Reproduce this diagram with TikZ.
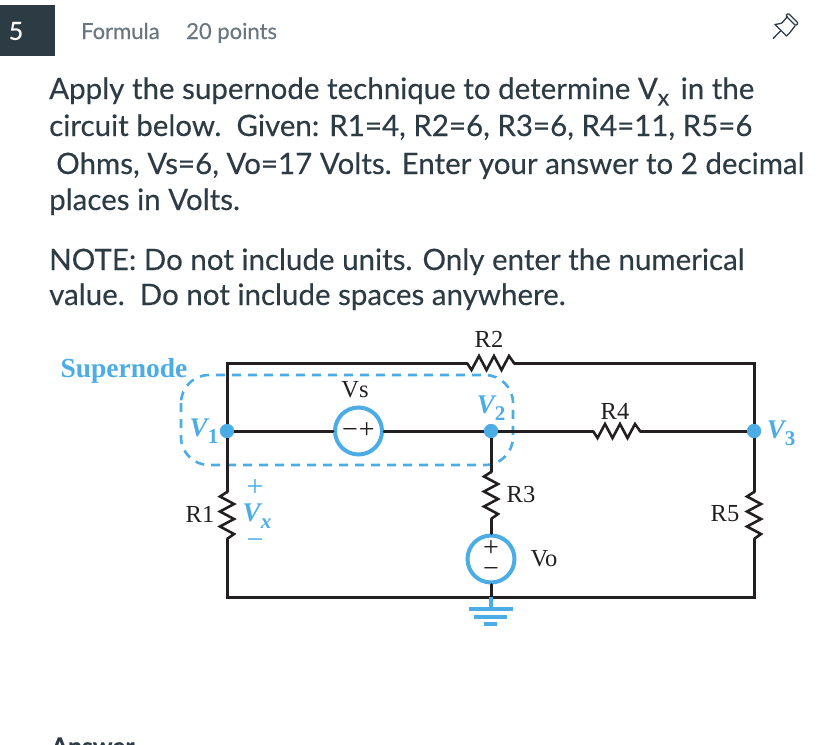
\documentclass[tikz,border=0pt]{standalone}
\usepackage{fontspec}
\setmainfont[FakeBold=0.25]{Lato}
\newfontfamily\cserif{Liberation Serif}
\definecolor{cblue}{HTML}{4BACE6}
\definecolor{cwire}{HTML}{231F20}
\definecolor{hdark}{HTML}{2D3B45}
\definecolor{hgray}{HTML}{6B7780}
\tikzset{
  x=1pt,y=-1pt,
  wire/.style={draw=cwire,line width=3pt,line cap=round,line join=miter},
  res/.style={draw=cwire,line width=2.6pt,line join=miter},
  resistor/.pic={\draw[res] (0,0) -- (4.5,7) -- (12,-7) -- (19.5,7) -- (27,-7) -- (34.5,7) -- (42,-7) -- (47,0);},
  junction/.style={circle,fill=cblue,inner sep=0pt,minimum size=14pt},
  source/.style={circle,draw=cblue,line width=4pt,fill=white,inner sep=0pt,minimum size=47pt,text=cwire,font=\cserif\fontsize{28}{28}\selectfont},
  para/.style={anchor=base west,inner sep=0pt,text=hdark,font=\fontsize{29.5}{30}\selectfont},
  head/.style={anchor=base west,inner sep=0pt,text=hgray,font=\fontsize{22}{24}\selectfont},
  clab/.style={inner sep=0pt,text=cwire,font=\cserif\fontsize{24.5}{24.5}\selectfont},
  blab/.style={inner sep=0pt,text=cblue,font=\cserif\itshape\bfseries\fontsize{27}{27}\selectfont},
  gbar/.style={draw=cblue,line width=4pt},
  loopline/.style={draw=cblue,line width=2.6pt,dash pattern=on 9pt off 7pt},
  pin/.style={draw=hdark,line width=1.3pt,line join=round,line cap=round},
}
\newcommand{\sbs}[1]{\raisebox{-0.22em}{\fontsize{23}{23}\selectfont #1}}
\newcommand{\nsb}[1]{\raisebox{-0.25em}{\upshape\bfseries\fontsize{21}{21}\selectfont #1}}
\begin{document}
\begin{tikzpicture}
\useasboundingbox (0,0) rectangle (824,744);
% header
\node[fill=hdark,minimum width=55pt,minimum height=51pt,inner sep=0pt,anchor=north west] (badge) at (0,5) {};
\node[inner sep=0pt,text=white,font=\fontsize{25}{25}\selectfont] (num) at (16,31) {5};
\node[head] (formula) at (81,39) {Formula};
\node[head] (points) at (186,39) {20 points};
% pin icon
\draw[pin] (773.3,38.3) -- (780.5,31);
\draw[pin,rounded corners=1pt,rotate around={-45:(792,19.5)}] (785,17.75) rectangle (799,21.25);
\draw[pin,rounded corners=1pt] (775,24.5) -- (781.7,23.3) -- (787.3,16.7);
\draw[pin,rounded corners=1pt] (786.5,36) -- (789.3,33.3) -- (795,26);
\draw[pin] (775,24.5) -- (786.5,36);
% question text
\node[para] (l1) at (49,99) {Apply the supernode technique to determine V\sbs{x}\hspace{4pt} in the};
\node[para] (l2) at (49,136) {circuit below.\ \ Given: R1=4, R2=6, R3=6, R4=11, R5=6};
\node[para] (l3) at (56,174) {Ohms, Vs=6, Vo=17 Volts. Enter your answer to 2 decimal};
\node[para] (l4) at (49,210) {places in Volts.};
\node[para] (l5) at (49,270) {NOTE: Do not include units. Only enter the numerical};
\node[para] (l6) at (49,305) {value.\ \ Do not include spaces anywhere.};
\node[para,font=\bfseries\fontsize{24.5}{24.5}\selectfont] (ans) at (51,755) {Answer};
% supernode outline
\draw[loopline,rounded corners=28pt] (181,375) rectangle (513,465);
% corners and resistor ends
\coordinate (tl) at (227,363);
\coordinate (tr) at (754,363);
\coordinate (bl) at (227,597);
\coordinate (br) at (754,597);
\coordinate (bm) at (491,597);
\coordinate (r2a) at (467,363); \coordinate (r2b) at (514,363);
\coordinate (r4a) at (593,431); \coordinate (r4b) at (640,431);
\coordinate (r1a) at (227,492); \coordinate (r1b) at (227,539);
\coordinate (r3a) at (491,472); \coordinate (r3b) at (491,519);
\coordinate (r5a) at (754,492); \coordinate (r5b) at (754,539);
\coordinate (gtop) at (491,608);
% nodes
\node[junction] (v1) at (227,431) {};
\node[junction] (v2) at (491,431) {};
\node[junction] (v3) at (754,431) {};
\node[source] (vs) at (358.5,431) {\raisebox{0.02em}{−\hspace{1pt}+}};
\node[source,align=center,font=\cserif\fontsize{28}{21}\selectfont] (vo) at (491,559) {+\\−};
% wires
\draw[wire] (r2a) -- (tl) -- (v1) -- (r1a);
\draw[wire] (r1b) -- (bl) -- (br) -- (r5b);
\draw[wire] (r5a) -- (v3) -- (tr) -- (r2b);
\draw[wire] (v1) -- (vs);
\draw[wire] (vs) -- (v2) -- (r4a);
\draw[wire] (r4b) -- (v3);
\draw[wire] (v2) -- (r3a);
\draw[wire] (r3b) -- (vo);
\draw[wire] (vo) -- (bm);
\node[junction] at (v1) {};
\node[junction] at (v2) {};
\node[junction] at (v3) {};
% resistors
\pic at (r2a) {resistor};
\pic at (r4a) {resistor};
\pic[rotate=-90] at (r1a) {resistor};
\pic[rotate=-90] at (r3a) {resistor};
\pic[rotate=-90] at (r5a) {resistor};
% ground
\draw[gbar] (bm) -- (gtop);
\draw[gbar] (469,609) -- (513,609);
\draw[gbar] (474,617) -- (507,617);
\draw[gbar] (484,624) -- (497,624);
% labels
\node[clab] (tr2) at (489,339) {R2};
\node[clab] (tvs) at (355,390) {Vs};
\node[clab] (tr4) at (615,411) {R4};
\node[clab] (tr3) at (521,495) {R3};
\node[clab] (tr1) at (200,514) {R1};
\node[clab] (tr5) at (725,514) {R5};
\node[clab] (tvo) at (544,559) {Vo};
\node[inner sep=0pt,text=cblue,font=\cserif\bfseries\fontsize{27.5}{27.5}\selectfont] (tsuper) at (124,371) {Supernode};
\node[blab] (tv1) at (204,431) {V\nsb{1}};
\node[blab] (tv2) at (491,408) {V\nsb{2}};
\node[blab] (tv3) at (781,433) {V\nsb{3}};
\node[inner sep=0pt,text=cblue,font=\cserif\fontsize{30}{30}\selectfont] (vxp) at (255,488) {+};
\node[blab] (vx) at (257,516) {V\raisebox{-0.25em}{\fontsize{21}{21}\selectfont x}};
\node[inner sep=0pt,text=cblue,font=\cserif\fontsize{30}{30}\selectfont] (vxm) at (255,544) {−};
\end{tikzpicture}
\end{document}
